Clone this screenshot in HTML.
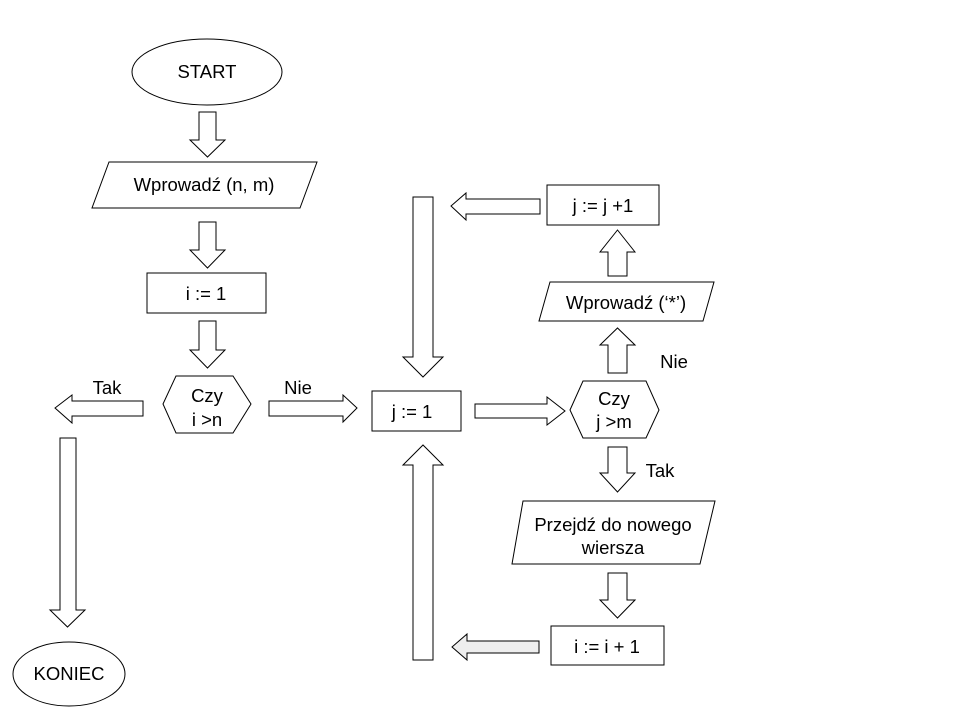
<!DOCTYPE html>
<html><head><meta charset="utf-8"><style>
html,body{margin:0;padding:0;background:#fff;}
svg{display:block;}
text{font-family:"Liberation Sans",Arial,sans-serif;font-size:18.5px;fill:#000;text-anchor:middle;}
.s{fill:#fff;stroke:#000;stroke-width:1;}
</style></head><body>
<svg width="960" height="720" viewBox="0 0 960 720" xmlns="http://www.w3.org/2000/svg">
<ellipse class="s" cx="207" cy="72" rx="75" ry="33"/>
<text x="207" y="78">START</text>
<polygon class="s" points="199,112 216,112 216,140 225,140 207.5,157 190,140 199,140"/>
<polygon class="s" points="109,162 317,162 300,208 92,208"/>
<text x="204" y="191">Wprowadź (n, m)</text>
<polygon class="s" points="199,222 216,222 216,250 225,250 207.5,268 190,250 199,250"/>
<rect class="s" x="147" y="273" width="119" height="40"/>
<text x="206" y="300">i := 1</text>
<polygon class="s" points="199,321 216,321 216,350 225,350 207.5,368 190,350 199,350"/>
<polygon class="s" points="163,404 176,376 233,376 251,404 233,433 176,433"/>
<text x="207" y="402">Czy</text>
<text x="207" y="426">i &gt;n</text>
<text x="107" y="394">Tak</text>
<polygon class="s" points="143,401 143,416 72,416 72,423 55,408 72,395 72,401"/>
<polygon class="s" points="60,438 76,438 76,610 85,610 67.5,627 50,610 60,610"/>
<ellipse class="s" cx="69" cy="674" rx="56" ry="32"/>
<text x="69" y="680">KONIEC</text>
<text x="298" y="394">Nie</text>
<polygon class="s" points="269,401 343,401 343,395 357,408 343,422 343,416 269,416"/>
<rect class="s" x="372" y="391" width="89" height="40"/>
<text x="412" y="418">j := 1</text>
<polygon class="s" points="413,197 433,197 433,357 443,357 423,377 403,357 413,357"/>
<polygon class="s" points="413,660 433,660 433,465 443,465 423,445 403,465 413,465"/>
<polygon class="s" points="540,199 540,214 466,214 466,220 451,206 466,193 466,199"/>
<rect class="s" x="547" y="185" width="112" height="40"/>
<text x="603" y="212">j := j +1</text>
<polygon class="s" points="608,276 627,276 627,252 635,252 617.5,230 600,252 608,252"/>
<polygon class="s" points="550,282 714,282 703,321 539,321"/>
<text x="626" y="309">Wprowadź (‘*’)</text>
<polygon class="s" points="608,373 627,373 627,345 635,345 617.5,328 600,345 608,345"/>
<text x="674" y="368">Nie</text>
<polygon class="s" points="570,410 583,381 646,381 659,410 646,438 583,438"/>
<text x="614" y="405">Czy</text>
<text x="614" y="428">j &gt;m</text>
<polygon class="s" points="475,404 547,404 547,397 565,411 547,425 547,418 475,418"/>
<polygon class="s" points="608,447 627,447 627,473 635,473 617.5,492 600,473 608,473"/>
<text x="660" y="477">Tak</text>
<polygon class="s" points="523,501 715,501 700,564 512,564"/>
<text x="613" y="531">Przejdź do nowego</text>
<text x="613" y="554">wiersza</text>
<polygon class="s" points="608,573 627,573 627,600 635,600 617.5,618 600,600 608,600"/>
<rect class="s" x="551" y="626" width="113" height="39"/>
<text x="607" y="653">i := i + 1</text>
<polygon points="539,641 539,653 467,653 467,660 452,647 467,634 467,641" style="fill:#eee;stroke:#000;stroke-width:1"/>
</svg>
</body></html>
